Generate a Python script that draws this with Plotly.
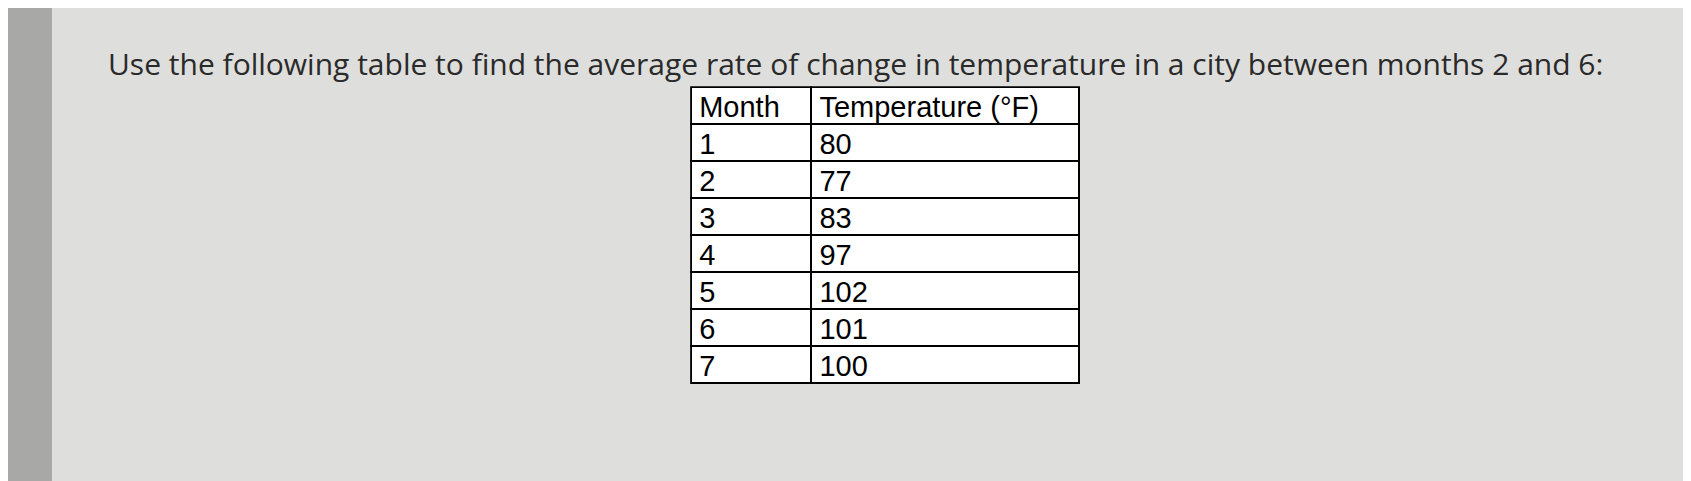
import plotly.graph_objects as go

header = ["Month", "Temperature (°F)"]
months = ["1", "2", "3", "4", "5", "6", "7"]
temps = ["80", "77", "83", "97", "102", "101", "100"]
title_text = "Use the following table to find the average rate of change in temperature in a city between months 2 and 6:"

fig = go.Figure(go.Table(
    domain=dict(x=[0.404, 0.634], y=[0.0, 0.835]),
    columnwidth=[0.31, 0.69],
    header=dict(values=header, fill_color="white", line_color="black", line_width=2,
                align="left", height=37, font=dict(family="Liberation Sans", size=29, color="black")),
    cells=dict(values=[months, temps], fill_color="white", line_color="black", line_width=2,
               align="left", height=37, font=dict(family="Liberation Sans", size=29, color="black")),
))
fig.add_shape(type="rect", xref="paper", yref="paper", x0=0, x1=0.026, y0=0, y1=1,
              fillcolor="#a8a8a6", line_width=0, layer="below")
fig.add_annotation(text=title_text, xref="paper", yref="paper", x=0.058, y=0.885,
                   xanchor="left", yanchor="middle", showarrow=False,
                   font=dict(family="Open Sans", size=30, color="#2a2a2a"))
fig.update_layout(width=1691, height=481, margin=dict(l=0, r=0, t=0, b=0),
                  paper_bgcolor="#dededc", plot_bgcolor="#dededc")
fig.write_html("out.html")
